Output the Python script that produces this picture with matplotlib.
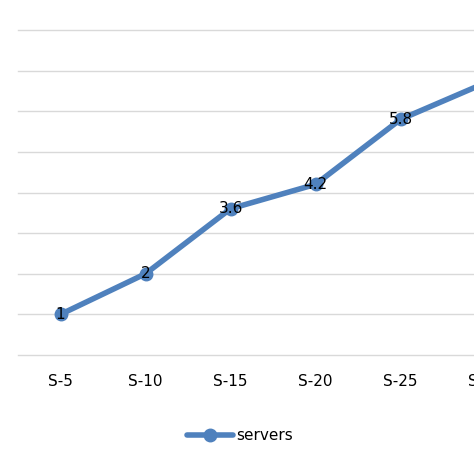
import matplotlib.pyplot as plt

categories = ["S-5", "S-10", "S-15", "S-20", "S-25", "S-30"]
servers = [1, 2, 3.6, 4.2, 5.8, 6.7]

color = "#4f81bd"
fig = plt.figure(figsize=(4.74, 4.74), dpi=100)
ax = fig.add_axes([18 / 474, 119 / 474, 510 / 474, 325 / 474])

x = range(len(categories))
ax.plot(x, servers, color=color, linewidth=4, marker="o", markersize=9,
        label="servers", zorder=3, solid_capstyle="round")
for xi, v in zip(x, servers):
    ax.text(xi, v, f"{v:g}", ha="center", va="center", fontsize=11, zorder=4)

ax.set_xlim(-0.5, 5.5)
ax.set_ylim(0, 8)
ax.set_yticks(range(0, 9))
ax.set_yticklabels([])
ax.set_xticks(list(x))
ax.set_xticklabels(categories, fontsize=11)
ax.tick_params(length=0, pad=14)
ax.grid(axis="y", color="#d9d9d9", linewidth=1)
for gl in ax.get_ygridlines():
    gl.set_clip_on(False)
for s in ax.spines.values():
    s.set_visible(False)

fig.legend(loc="center", bbox_to_anchor=(240 / 474, 1 - 436 / 474), frameon=False,
           fontsize=11, handlelength=3, handletextpad=0.2)

fig.savefig("out.png", dpi=100)
